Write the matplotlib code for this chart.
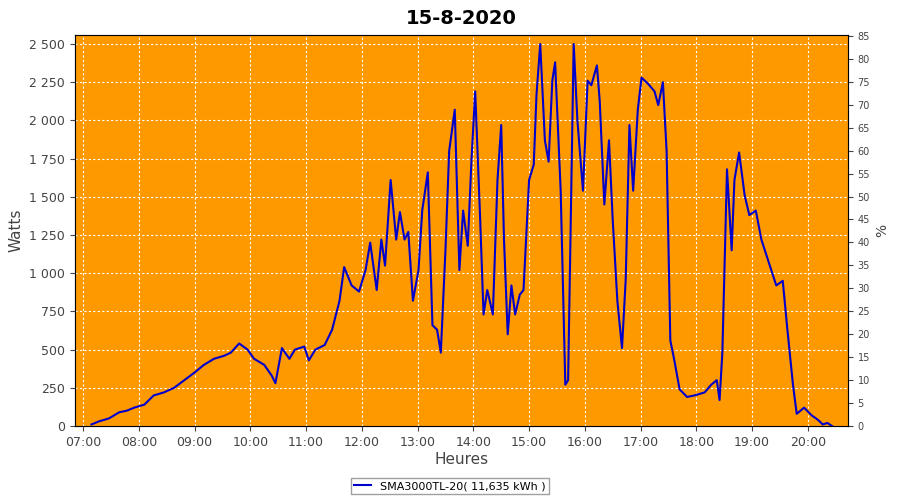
import matplotlib
matplotlib.use("Agg")
import matplotlib.pyplot as plt
from matplotlib.ticker import FuncFormatter, MultipleLocator

# temps (HH:MM) et puissance (W)
times = ["07:09", "07:17", "07:28", "07:39", "07:47", "07:55", "08:06", "08:16", "08:27", "08:38",
         "08:49", "09:00", "09:10", "09:21", "09:32", "09:39", "09:48", "09:57", "10:04", "10:15",
         "10:23", "10:27", "10:34", "10:42", "10:48", "10:58", "11:03", "11:10", "11:20", "11:28",
         "11:36", "11:41", "11:49", "11:57", "12:04", "12:09", "12:16", "12:21", "12:25", "12:31",
         "12:37", "12:41", "12:46", "12:50", "12:55", "13:01", "13:05", "13:11", "13:16", "13:21",
         "13:25", "13:30", "13:34", "13:40", "13:45", "13:49", "13:54", "13:58", "14:02", "14:07",
         "14:11", "14:15", "14:21", "14:26", "14:30", "14:33", "14:37", "14:41", "14:45", "14:50",
         "14:54", "15:00", "15:05", "15:08", "15:12", "15:17", "15:21", "15:25", "15:28", "15:34",
         "15:39", "15:42", "15:48", "15:52", "15:58", "16:03", "16:07", "16:13", "16:16", "16:21",
         "16:26", "16:30", "16:35", "16:40", "16:44", "16:48", "16:52", "16:57", "17:01", "17:08",
         "17:15", "17:19", "17:24", "17:28", "17:32", "17:36", "17:42", "17:50", "17:58", "18:09",
         "18:16", "18:22", "18:25", "18:28", "18:33", "18:38", "18:41", "18:46", "18:52", "18:57",
         "19:04", "19:10", "19:19", "19:26", "19:33", "19:38", "19:44", "19:48", "19:56", "20:04",
         "20:11", "20:16", "20:21", "20:26"]
watts = [10, 30, 50, 90, 100, 120, 140, 200, 220, 250,
         300, 350, 400, 440, 460, 480, 540, 500, 440, 400,
         330, 280, 510, 440, 500, 520, 430, 500, 530, 630,
         820, 1040, 920, 880, 1020, 1200, 890, 1220, 1050, 1610,
         1220, 1400, 1220, 1270, 820, 1020, 1410, 1660, 660, 630,
         480, 1150, 1800, 2070, 1020, 1410, 1180, 1740, 2190, 1410,
         730, 890, 730, 1610, 1970, 1220, 600, 920, 730, 860,
         890, 1610, 1710, 2170, 2500, 1870, 1730, 2260, 2380, 1540,
         270, 300, 2500, 2000, 1540, 2260, 2230, 2360, 2130, 1450,
         1870, 1350, 820, 510, 960, 1970, 1540, 2070, 2280, 2240,
         2190, 2100, 2250, 1800, 560, 440, 240, 190, 200, 220,
         270, 300, 170, 480, 1680, 1150, 1610, 1790, 1510, 1380,
         1410, 1220, 1050, 920, 950, 630, 270, 80, 120, 70,
         40, 10, 20, 0]

hours = [int(t[:2]) + int(t[3:]) / 60 for t in times]

fig = plt.figure(figsize=(9, 5), dpi=100)
ax = fig.add_axes([0.083, 0.148, 0.859, 0.782])
ax.set_facecolor("#FF9900")
ax.plot(hours, watts, color="#0000CC", lw=1.5, label="SMA3000TL-20( 11,635 kWh )")

ax.set_xlim(6 + 51 / 60, 20 + 43 / 60)
ax.set_ylim(0, 2559)
ax.xaxis.set_major_locator(MultipleLocator(1))
ax.xaxis.set_major_formatter(FuncFormatter(lambda v, p: "%02d:00" % round(v)))
ax.yaxis.set_major_locator(MultipleLocator(250))
ax.yaxis.set_major_formatter(FuncFormatter(lambda v, p: "{:,}".format(int(v)).replace(",", " ")))
ax.grid(True, color="white", ls=(0, (2, 2)), lw=0.8)
ax.tick_params(labelsize=9, colors="#444444")
for s in ax.spines.values():
    s.set_color("#888888")
ax.set_xlabel("Heures", fontsize=11, color="#444444", labelpad=2)
ax.set_ylabel("Watts", fontsize=11, color="#444444")
ax.set_title("15-8-2020", fontsize=14, fontweight="bold", pad=8)

ax2 = ax.twinx()
ax2.set_ylim(0, 85.2)
ax2.yaxis.set_major_locator(MultipleLocator(5))
ax2.tick_params(labelsize=7, colors="#444444")
ax2.set_ylabel("%", fontsize=10, color="#444444")

fig.legend(loc="lower center", bbox_to_anchor=(0.5, 0.0), fontsize=8, fancybox=False,
           edgecolor="#888888", handlelength=1.5, borderpad=0.3)
fig.savefig("out.png", dpi=100)
